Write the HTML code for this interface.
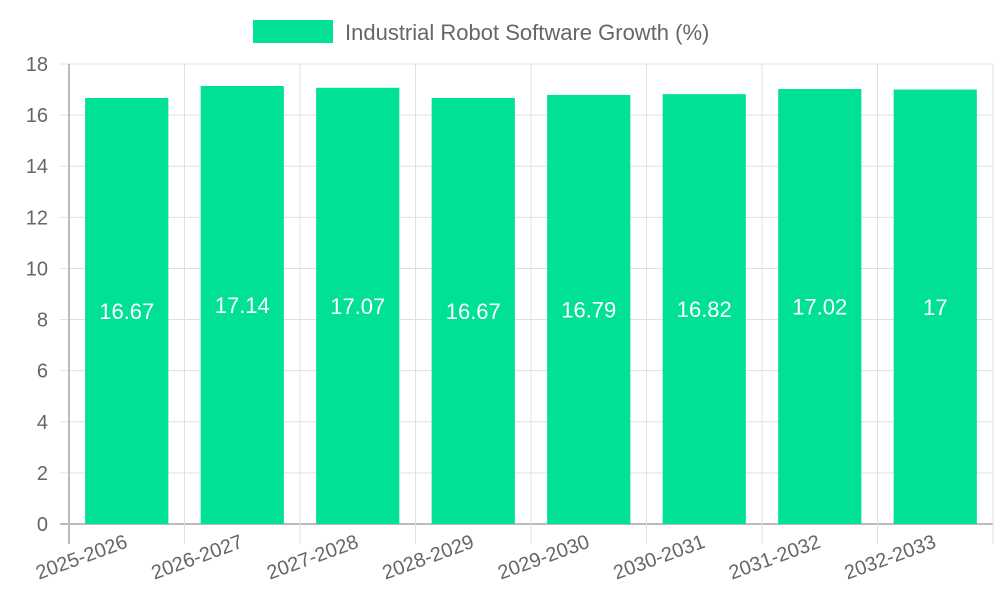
<!DOCTYPE html>
<html><head><meta charset="utf-8"><style>body{margin:0;background:#fff}svg{display:block;font-family:"Liberation Sans",sans-serif}</style></head>
<body>
<svg id="chart" width="1000" height="600" xmlns="http://www.w3.org/2000/svg">
<g>
<rect x="253" y="20" width="80" height="23" fill="#00e096"/>
<text x="345" y="40" font-size="22" fill="#666">Industrial Robot Software Growth (%)</text>
</g>
<g id="grid"></g><g id="bars"></g><g id="labels"></g>
</svg>
<script>
const categories=["2025-2026","2026-2027","2027-2028","2028-2029","2029-2030","2030-2031","2031-2032","2032-2033"];
const values=[16.67,17.14,17.07,16.67,16.79,16.82,17.02,17];
const yTicks=[0,2,4,6,8,10,12,14,16,18];
const NS="http://www.w3.org/2000/svg";
const x0=69,x1=993,yB=524,yT=64,yMax=18;
const bw=(x1-x0)/categories.length;
const y=v=>yB-(v/yMax)*(yB-yT);
const xc=i=>x0+bw*(i+0.5);
function mk(t,a,p){const e=document.createElementNS(NS,t);for(const k in a)e.setAttribute(k,a[k]);p.appendChild(e);return e;}
const grid=document.getElementById('grid'),bars=document.getElementById('bars'),labels=document.getElementById('labels');
yTicks.forEach(t=>{
 const l=mk('line',{x1:60,x2:x1,y1:y(t),y2:y(t),stroke:t===0?'#bbb':'#e0e0e0','stroke-width':t===0?2:1},grid);
 
 
 const tx=mk('text',{x:48,y:y(t)+7,'text-anchor':'end','font-size':20,fill:'#666'},grid);
 tx.textContent=t;
 
 
});
for(let i=0;i<=categories.length;i++){
 const gx=x0+bw*i;
 const l=mk('line',{x1:gx,x2:gx,y1:yT,y2:544,stroke:i===0?'#bbb':'#e0e0e0','stroke-width':i===0?2:1},grid);
 
 
}
categories.forEach((c,i)=>{
 const w=bw*0.72,v=values[i];
 const r=mk('rect',{x:xc(i)-w/2,y:y(v),width:w,height:yB-y(v),fill:'#00e096'},bars);
 
 
 const vt=mk('text',{x:xc(i),y:(y(v)+yB)/2+8,'text-anchor':'middle','font-size':22,fill:'#fff'},labels);
 vt.textContent=v;
 
 
 const cx=xc(i)+2,cy=547;
 const lt=mk('text',{x:cx,y:cy,'text-anchor':'end','font-size':20,fill:'#666',transform:`rotate(-20 ${cx} ${cy})`},labels);
 lt.textContent=c;
 
 
});
</script>
</body></html>
